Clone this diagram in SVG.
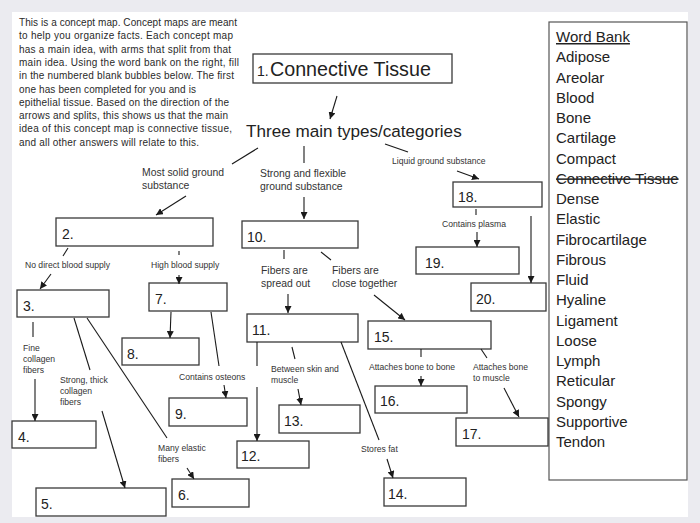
<svg xmlns="http://www.w3.org/2000/svg" width="700" height="523" viewBox="0 0 700 523">
<style>
text{font-family:"Liberation Sans",Arial,sans-serif;fill:#222}
.box{fill:#fff;stroke:#3a3a3a;stroke-width:1.3}
.num{font-size:14px}
.intro{font-size:10px;fill:#2a2a2a}
.med{font-size:10.4px;fill:#333}
.sm{font-size:8.6px;fill:#333}
.wb{font-size:15px}
.ln{stroke:#1a1a1a;stroke-width:1.1;fill:none}
.ar{stroke:#1a1a1a;stroke-width:1.1;fill:none;marker-end:url(#ah)}
</style>
<defs>
<marker id="ah" markerUnits="userSpaceOnUse" markerWidth="8" markerHeight="7" refX="7" refY="3.5" orient="auto">
<path d="M0,0 L7,3.5 L0,7 z" fill="#1a1a1a"/>
</marker>
</defs>
<rect x="0" y="0" width="700" height="523" fill="#ebebf0"/>
<rect x="12" y="12" width="676" height="505" fill="#fff"/>

<g id="intro" class="intro">
<text x="19" y="26" class="intro" textLength="218">This is a concept map. Concept maps are meant</text>
<text x="19" y="39.3" class="intro" textLength="214">to help you organize facts. Each concept map</text>
<text x="19" y="52.6" class="intro" textLength="212">has a main idea, with arms that split from that</text>
<text x="19" y="65.9" class="intro" textLength="220">main idea. Using the word bank on the right, fill</text>
<text x="19" y="79.2" class="intro" textLength="215">in the numbered blank bubbles below. The first</text>
<text x="19" y="92.5" class="intro" textLength="177">one has been completed for you and is</text>
<text x="19" y="105.8" class="intro" textLength="210">epithelial tissue. Based on the direction of the</text>
<text x="19" y="119.1" class="intro" textLength="209">arrows and splits, this shows us that the main</text>
<text x="19" y="132.4" class="intro" textLength="213">idea of this concept map is connective tissue,</text>
<text x="19" y="145.7" class="intro" textLength="180">and all other answers will relate to this.</text>
</g>

<g id="wordbank">
<rect x="549" y="22" width="138" height="458" fill="#fff" stroke="#555" stroke-width="1.2"/>
<text x="556" y="42" class="wb" text-decoration="underline">Word Bank</text>
<text x="556" y="62.3" class="wb">Adipose</text>
<text x="556" y="82.5" class="wb">Areolar</text>
<text x="556" y="102.8" class="wb">Blood</text>
<text x="556" y="123" class="wb">Bone</text>
<text x="556" y="143.3" class="wb">Cartilage</text>
<text x="556" y="163.5" class="wb">Compact</text>
<text x="556" y="183.8" class="wb" text-decoration="line-through">Connective Tissue</text>
<text x="556" y="204" class="wb">Dense</text>
<text x="556" y="224.3" class="wb">Elastic</text>
<text x="556" y="244.5" class="wb">Fibrocartilage</text>
<text x="556" y="264.8" class="wb">Fibrous</text>
<text x="556" y="285" class="wb">Fluid</text>
<text x="556" y="305.3" class="wb">Hyaline</text>
<text x="556" y="325.5" class="wb">Ligament</text>
<text x="556" y="345.8" class="wb">Loose</text>
<text x="556" y="366" class="wb">Lymph</text>
<text x="556" y="386.3" class="wb">Reticular</text>
<text x="556" y="406.5" class="wb">Spongy</text>
<text x="556" y="426.8" class="wb">Supportive</text>
<text x="556" y="447" class="wb">Tendon</text>
</g>

<g id="n1"><rect class="box" x="253" y="54" width="199" height="29"/><text x="257" y="76" style="font-size:14px">1.</text><text x="270" y="76" style="font-size:19.7px">Connective Tissue</text></g>
<g id="types"><text x="246" y="137" style="font-size:17.1px">Three main types/categories</text></g>
<g id="n2"><rect class="box" x="56" y="218" width="157" height="28"/><text class="num" x="62" y="239">2.</text></g>
<g id="n3"><rect class="box" x="17" y="290" width="92" height="27"/><text class="num" x="23" y="311">3.</text></g>
<g id="n4"><rect class="box" x="12" y="421" width="84" height="27"/><text class="num" x="18" y="442">4.</text></g>
<g id="n5"><rect class="box" x="36" y="488" width="130" height="28"/><text class="num" x="41" y="509">5.</text></g>
<g id="n6"><rect class="box" x="172" y="479" width="77" height="28"/><text class="num" x="178" y="500">6.</text></g>
<g id="n7"><rect class="box" x="149" y="283" width="78" height="28"/><text class="num" x="155" y="304">7.</text></g>
<g id="n8"><rect class="box" x="122" y="338" width="77" height="27"/><text class="num" x="127" y="359">8.</text></g>
<g id="n9"><rect class="box" x="169" y="398" width="78" height="28"/><text class="num" x="175" y="419">9.</text></g>
<g id="n10"><rect class="box" x="242" y="221" width="116" height="27"/><text class="num" x="247" y="242">10.</text></g>
<g id="n11"><rect class="box" x="247" y="314" width="111" height="28"/><text class="num" x="252" y="335">11.</text></g>
<g id="n12"><rect class="box" x="237" y="441" width="72" height="27"/><text class="num" x="241" y="461">12.</text></g>
<g id="n13"><rect class="box" x="279" y="405" width="81" height="28"/><text class="num" x="284" y="426">13.</text></g>
<g id="n14"><rect class="box" x="384" y="478" width="82" height="28"/><text class="num" x="388" y="499">14.</text></g>
<g id="n15"><rect class="box" x="368" y="321" width="123" height="28"/><text class="num" x="374" y="342">15.</text></g>
<g id="n16"><rect class="box" x="375" y="386" width="92" height="27"/><text class="num" x="380" y="406">16.</text></g>
<g id="n17"><rect class="box" x="456" y="418" width="92" height="28"/><text class="num" x="462" y="439">17.</text></g>
<g id="n18"><rect class="box" x="453" y="182" width="89" height="25"/><text class="num" x="458" y="202">18.</text></g>
<g id="n19"><rect class="box" x="416" y="247" width="103" height="27"/><text class="num" x="425" y="268">19.</text></g>
<g id="n20"><rect class="box" x="471" y="283" width="75" height="28"/><text class="num" x="476" y="304">20.</text></g>

<g id="connectors">
<line class="ar" x1="337" y1="96" x2="330" y2="119"/>
<line class="ln" x1="258" y1="148" x2="232" y2="164"/>
<line class="ln" x1="304" y1="146" x2="304" y2="163"/>
<line class="ln" x1="385" y1="144" x2="408" y2="152"/>
<line class="ar" x1="186" y1="196" x2="156" y2="215"/>
<line class="ar" x1="304" y1="197" x2="304" y2="219"/>
<line class="ar" x1="457" y1="171" x2="479" y2="179"/>
<line class="ln" x1="68" y1="248" x2="63" y2="256"/>
<line class="ar" x1="51" y1="274" x2="40" y2="289"/>
<line class="ln" x1="179" y1="251" x2="179" y2="255"/>
<line class="ar" x1="179" y1="275" x2="179" y2="284"/>
<line class="ln" x1="33" y1="322" x2="33" y2="337"/>
<line class="ar" x1="35" y1="379" x2="35" y2="421"/>
<line class="ln" x1="74" y1="318" x2="90" y2="370"/>
<line class="ar" x1="102" y1="411" x2="125" y2="488"/>
<line class="ln" x1="87" y1="318" x2="167" y2="438"/>
<line class="ar" x1="187" y1="468" x2="194" y2="479"/>
<line class="ar" x1="171" y1="312" x2="170" y2="338"/>
<line class="ln" x1="211" y1="312" x2="219" y2="366"/>
<line class="ar" x1="224" y1="385" x2="226" y2="398"/>
<line class="ln" x1="284" y1="250" x2="284" y2="259"/>
<line class="ar" x1="288" y1="294" x2="288" y2="313"/>
<line class="ln" x1="321" y1="252" x2="331" y2="260"/>
<line class="ar" x1="374" y1="295" x2="405" y2="320"/>
<line class="ln" x1="257" y1="342" x2="257" y2="366"/>
<line class="ar" x1="257" y1="387" x2="257" y2="441"/>
<line class="ln" x1="292" y1="347" x2="295" y2="359"/>
<line class="ar" x1="298" y1="389" x2="301" y2="405"/>
<line class="ln" x1="341" y1="342" x2="379" y2="440"/>
<line class="ar" x1="387" y1="459" x2="393" y2="478"/>
<line class="ln" x1="421" y1="349" x2="421" y2="357"/>
<line class="ar" x1="421" y1="376" x2="421" y2="386"/>
<line class="ln" x1="481" y1="349" x2="487" y2="358"/>
<line class="ar" x1="504" y1="388" x2="519" y2="417"/>
<line class="ln" x1="476" y1="209" x2="476" y2="215"/>
<line class="ar" x1="477" y1="232" x2="477" y2="247"/>
<line class="ar" x1="531" y1="216" x2="531" y2="283"/>
</g>

<g id="labels">
<text class="med" x="142" y="176">Most solid ground</text>
<text class="med" x="142" y="189">substance</text>
<text class="med" x="260" y="177">Strong and flexible</text>
<text class="med" x="260" y="190">ground substance</text>
<text class="sm" x="392" y="164">Liquid ground substance</text>
<text class="sm" x="25" y="268">No direct blood supply</text>
<text class="sm" x="151" y="268">High blood supply</text>
<text class="sm" x="442" y="227">Contains plasma</text>
<text class="med" x="261" y="274">Fibers are</text>
<text class="med" x="261" y="287">spread out</text>
<text class="med" x="332" y="274">Fibers are</text>
<text class="med" x="332" y="287">close together</text>
<text class="sm" x="23" y="351">Fine</text>
<text class="sm" x="23" y="362">collagen</text>
<text class="sm" x="23" y="373">fibers</text>
<text class="sm" x="60" y="383">Strong, thick</text>
<text class="sm" x="60" y="394">collagen</text>
<text class="sm" x="60" y="405">fibers</text>
<text class="sm" x="179" y="380">Contains osteons</text>
<text class="sm" x="158" y="451">Many elastic</text>
<text class="sm" x="158" y="462">fibers</text>
<text class="sm" x="271" y="372">Between skin and</text>
<text class="sm" x="271" y="383">muscle</text>
<text class="sm" x="361" y="452">Stores fat</text>
<text class="sm" x="369" y="370">Attaches bone to bone</text>
<text class="sm" x="473" y="370">Attaches bone</text>
<text class="sm" x="473" y="381">to muscle</text>
</g>
</svg>
